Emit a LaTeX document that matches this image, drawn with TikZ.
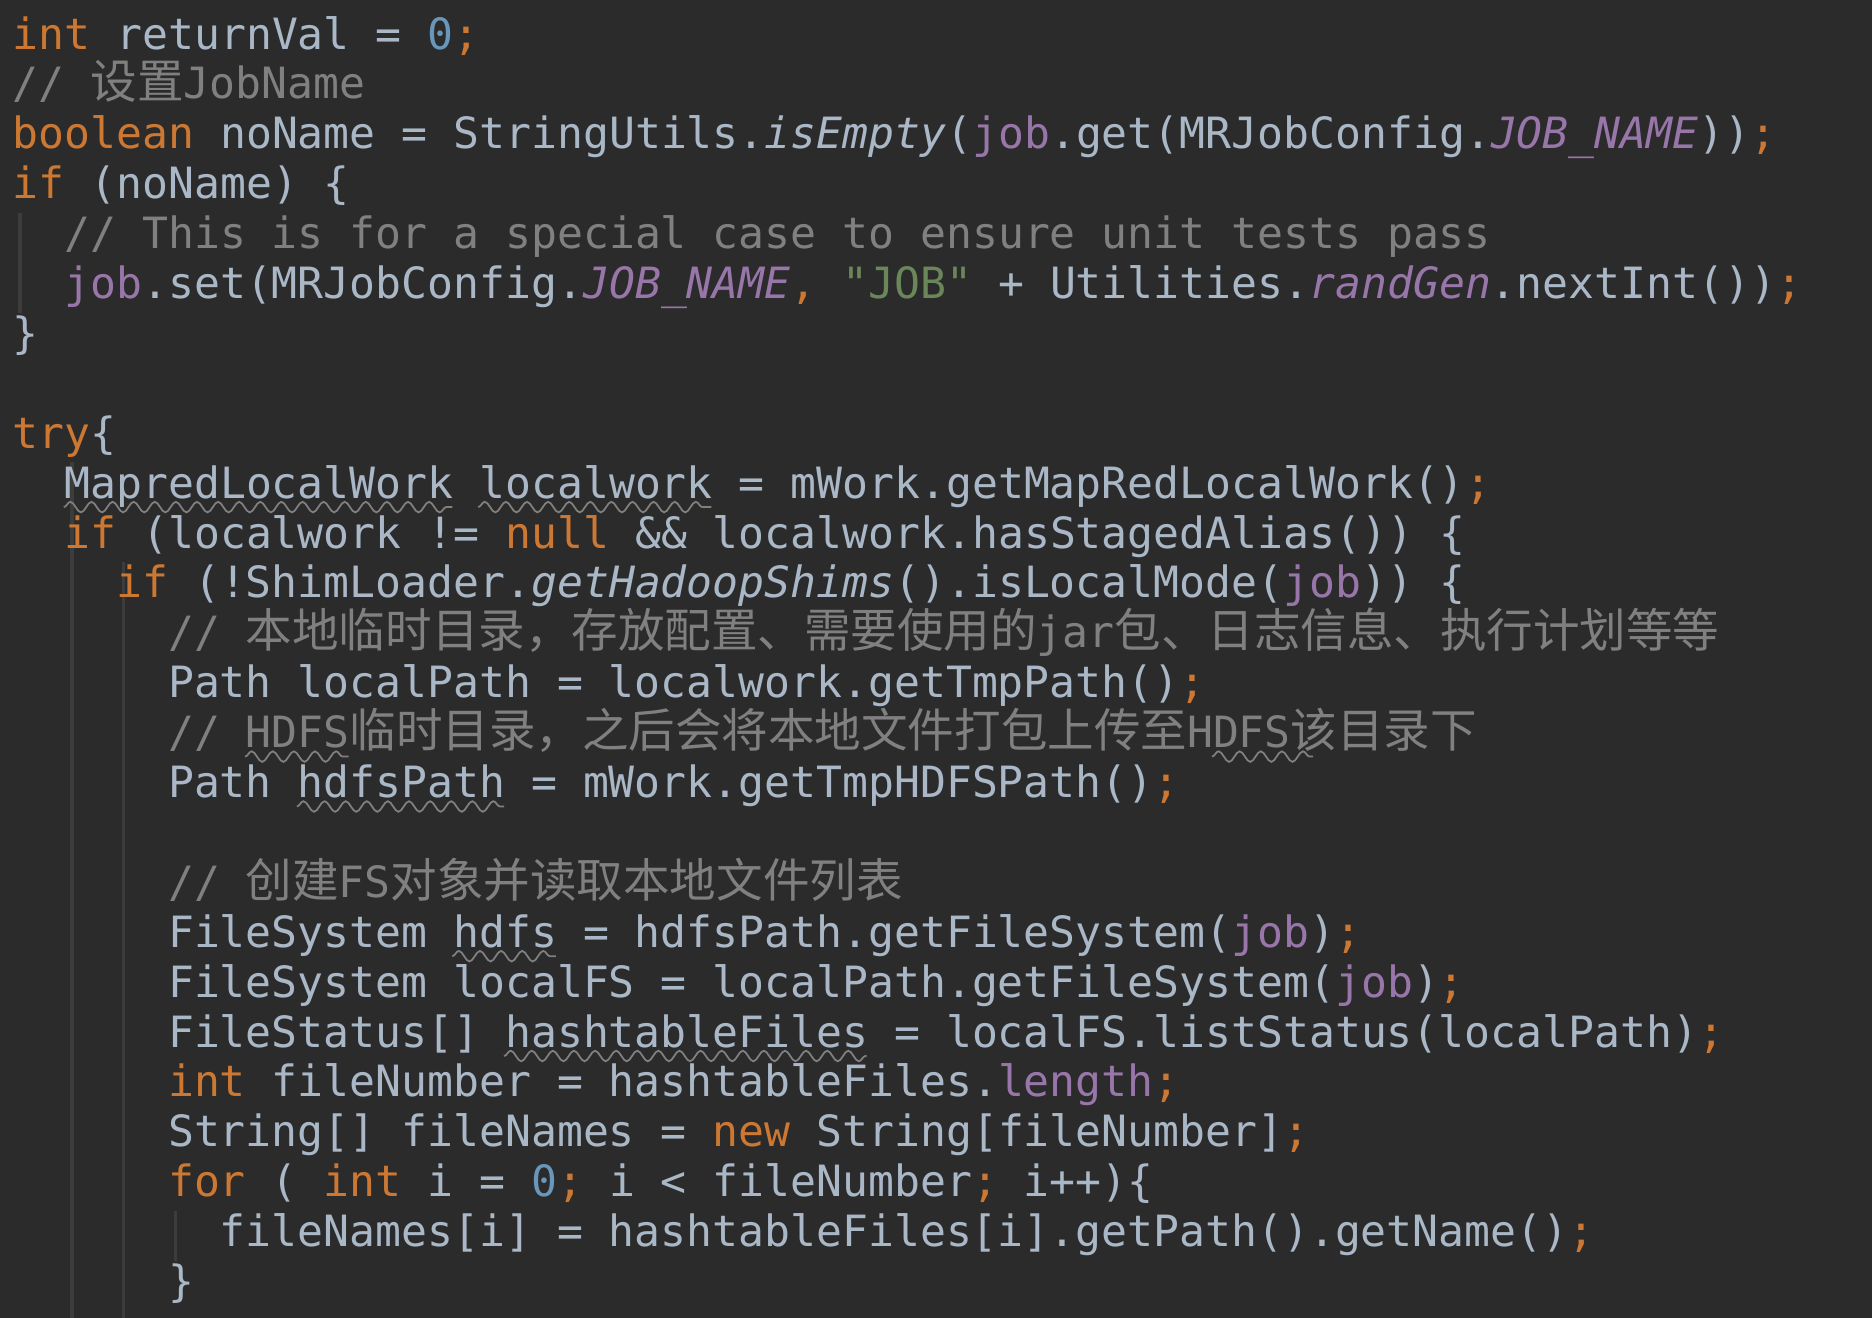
\documentclass[tikz,border=0pt]{standalone}
\usepackage{fontspec}
\setmonofont{DejaVu Sans Mono}
\newfontfamily\cjk[Scale=1.08]{Noto Sans CJK SC}
\usetikzlibrary{decorations.pathmorphing}
\definecolor{bg}{HTML}{2B2B2B}
\definecolor{idf}{HTML}{A9B7C6}
\definecolor{kwc}{HTML}{CC7832}
\definecolor{numc}{HTML}{6897BB}
\definecolor{strc}{HTML}{6A8759}
\definecolor{fldc}{HTML}{9876AA}
\definecolor{comc}{HTML}{808080}
\definecolor{guide}{HTML}{3C3C3C}
\newcommand{\ckw}[1]{{\color{kwc}#1}}
\newcommand{\cnum}[1]{{\color{numc}#1}}
\newcommand{\cstr}[1]{{\color{strc}#1}}
\newcommand{\cfld}[1]{{\color{fldc}#1}}
\newcommand{\cfit}[1]{{\color{fldc}\itshape #1}}
\newcommand{\cmit}[1]{{\itshape #1}}
\newcommand{\ccom}[1]{{\color{comc}#1}}
\begin{document}
\begin{tikzpicture}[x=0.01cm,y=-0.01cm,
  codeline/.style={anchor=base west,inner sep=0,text=idf,font=\ttfamily\fontsize{12.25pt}{14pt}\selectfont},
  wavy/.style={draw=comc,line width=0.5pt,decorate,decoration={snake,amplitude=1.5,segment length=6}},
  guideline/.style={draw=guide,line width=1pt}]
\fill[bg] (0,0) rectangle (1872,1318);
\useasboundingbox (0,0) rectangle (1872,1318);
\def\lh{49.9}\def\cw{25.9}
\newcommand{\cl}[4]{\node[codeline] (#1) at ({12+#2*2*\cw},{49+#3*\lh}) {#4};}
\newcommand{\wv}[3]{\draw[wavy] ({12+#2*\cw},{49+#1*\lh+9}) -- ({12+#3*\cw},{49+#1*\lh+9});}
\newcommand{\gd}[3]{\draw[guideline] ({20+#1*2*\cw},{49+#2*\lh-36}) -- ({20+#1*2*\cw},{min(1318,49+#3*\lh+14)});}
% indent guides
\gd{0}{4}{5}
\gd{1}{9}{26}
\gd{2}{11}{26}
\gd{3}{24}{24}
\cl{l0}{0}{0}{\ckw{int} returnVal = \cnum{0}\ckw{;}}
\cl{l1}{0}{1}{\ccom{// {\cjk 设置}JobName}}
\cl{l2}{0}{2}{\ckw{boolean} noName = StringUtils.\cmit{isEmpty}(\cfld{job}.get(MRJobConfig.\cfit{JOB\_NAME}))\ckw{;}}
\cl{l3}{0}{3}{\ckw{if} (noName) \{}
\cl{l4}{1}{4}{\ccom{// This is for a special case to ensure unit tests pass}}
\cl{l5}{1}{5}{\cfld{job}.set(MRJobConfig.\cfit{JOB\_NAME}\ckw{,} \cstr{"JOB"} + Utilities.\cfit{randGen}.nextInt())\ckw{;}}
\cl{l6}{0}{6}{\}}
\cl{l8}{0}{8}{\ckw{try}\{}
\cl{l9}{1}{9}{MapredLocalWork localwork = mWork.getMapRedLocalWork()\ckw{;}}
\cl{l10}{1}{10}{\ckw{if} (localwork != \ckw{null} \&\& localwork.hasStagedAlias()) \{}
\cl{l11}{2}{11}{\ckw{if} (!ShimLoader.\cmit{getHadoopShims}().isLocalMode(\cfld{job})) \{}
\cl{l12}{3}{12}{\ccom{// {\cjk 本地临时目录，存放配置、需要使用的}jar{\cjk 包、日志信息、执行计划等等}}}
\cl{l13}{3}{13}{Path localPath = localwork.getTmpPath()\ckw{;}}
\cl{l14}{3}{14}{\ccom{// HDFS{\cjk 临时目录，之后会将本地文件打包上传至}HDFS{\cjk 该目录下}}}
\cl{l15}{3}{15}{Path hdfsPath = mWork.getTmpHDFSPath()\ckw{;}}
\cl{l17}{3}{17}{\ccom{// {\cjk 创建}FS{\cjk 对象并读取本地文件列表}}}
\cl{l18}{3}{18}{FileSystem hdfs = hdfsPath.getFileSystem(\cfld{job})\ckw{;}}
\cl{l19}{3}{19}{FileSystem localFS = localPath.getFileSystem(\cfld{job})\ckw{;}}
\cl{l20}{3}{20}{FileStatus[] hashtableFiles = localFS.listStatus(localPath)\ckw{;}}
\cl{l21}{3}{21}{\ckw{int} fileNumber = hashtableFiles.\cfld{length}\ckw{;}}
\cl{l22}{3}{22}{String[] fileNames = \ckw{new} String[fileNumber]\ckw{;}}
\cl{l23}{3}{23}{\ckw{for} ( \ckw{int} i = \cnum{0}\ckw{;} i < fileNumber\ckw{;} i++)\{}
\cl{l24}{4}{24}{fileNames[i] = hashtableFiles[i].getPath().getName()\ckw{;}}
\cl{l25}{3}{25}{\}}
% wavy underlines
\wv{9}{2}{17}
\wv{9}{18}{27}
\wv{14}{9}{13}
\draw[wavy] (1212,{49+14*\lh+9}) -- (1313,{49+14*\lh+9});
\wv{15}{11}{19}
\wv{18}{17}{21}
\wv{20}{19}{33}
\end{tikzpicture}
\end{document}
